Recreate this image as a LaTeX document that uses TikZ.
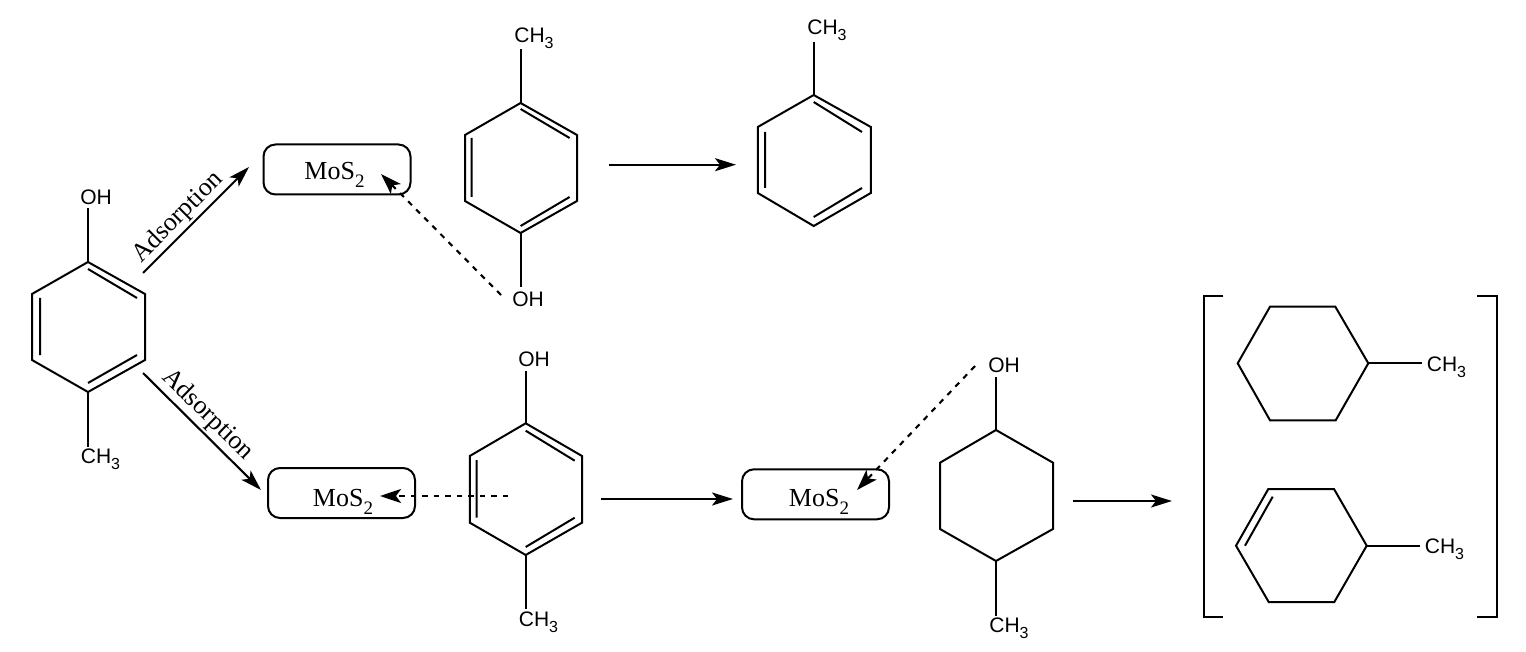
\documentclass[tikz,border=0pt]{standalone}
\usepackage{fontspec}
\setmainfont{Liberation Serif}
\newfontfamily\arialf{Liberation Sans}
\usetikzlibrary{arrows.meta}
\newcommand\subsc[1]{\raisebox{-0.3em}{\fontsize{16}{16}\selectfont #1}}
\newcommand\subsm[1]{\raisebox{-0.3em}{\fontsize{19}{19}\selectfont #1}}
\tikzset{
  bond/.style={line width=2pt,line join=miter,line cap=butt},
  atomlabel/.style={inner sep=0pt,font=\arialf\fontsize{21}{23}\selectfont},
  mosbox/.style={draw,line width=2pt,rounded corners=12pt,inner sep=0pt,minimum height=50pt},
  moslabel/.style={inner sep=0pt,font=\fontsize{26}{28}\selectfont},
  adslabel/.style={inner sep=0pt,font=\fontsize{26}{28}\selectfont},
  solidarrow/.style={line width=2.1pt,-{Stealth[length=21pt,width=13pt,inset=5pt]}},
  dasharrow/.style={line width=2.1pt,dash pattern=on 5.5pt off 6pt,-{Stealth[length=21pt,width=14pt,inset=5pt]}},
}
\begin{document}
\begin{tikzpicture}[x=1pt,y=-1pt]
\useasboundingbox[fill=white] (0,0) rectangle (1526,652);

% ring A
\coordinate (aT) at (88,262); \coordinate (aB) at (88,392);
\draw[bond] (aT) -- (145,294) -- (145,360) -- (aB) -- (32,360) -- (32,294) -- cycle;
\draw[bond] (88,269) -- (137,298) (40,298) -- (40,355) (137,355) -- (88,383);
\node[atomlabel] (aOH) at (96,197) {OH};
\node[atomlabel] (aCH) at (100.5,459.5) {CH\subsc{3}};
\coordinate (aOHe) at (88,208); \coordinate (aCHe) at (88,447);
\draw[bond] (aT) -- (aOHe); \draw[bond] (aB) -- (aCHe);

% ring B
\coordinate (bT) at (520.6,103); \coordinate (bB) at (520.6,233);
\draw[bond] (bT) -- (577,135) -- (577,201) -- (bB) -- (465,201) -- (465,135) -- cycle;
\draw[bond] (520.6,109) -- (569.6,138) (471.6,138) -- (471.6,197) (569.6,197) -- (520.6,226);
\node[atomlabel] (bCH) at (534,38.5) {CH\subsc{3}};
\node[atomlabel] (bOH) at (528,299) {OH};
\coordinate (bCHe) at (520.6,49); \coordinate (bOHe) at (520.6,287);
\draw[bond] (bT) -- (bCHe); \draw[bond] (bB) -- (bOHe);

% ring C
\coordinate (cT) at (813.7,95);
\draw[bond] (cT) -- (870.8,127) -- (870.8,193) -- (813.7,226) -- (757.8,193) -- (757.8,127) -- cycle;
\draw[bond] (813.7,102) -- (862,132) (765,132) -- (765,188) (862,188) -- (813.7,217);
\node[atomlabel] (cCH) at (827,30.5) {CH\subsc{3}};
\coordinate (cCHe) at (813.7,42);
\draw[bond] (cT) -- (cCHe);

% ring D
\coordinate (dT) at (525.7,423.3); \coordinate (dB) at (525.7,555);
\draw[bond] (dT) -- (582,456) -- (582,522.7) -- (dB) -- (469.8,522.7) -- (469.8,456) -- cycle;
\draw[bond] (525.7,430.7) -- (574.7,460.7) (476.7,460) -- (476.7,517.7) (574.7,517.7) -- (525.7,547);
\node[atomlabel] (dOH) at (534,359) {OH};
\node[atomlabel] (dCH) at (538.5,622.5) {CH\subsc{3}};
\coordinate (dOHe) at (525.7,370.7); \coordinate (dCHe) at (525.7,609);
\draw[bond] (dT) -- (dOHe); \draw[bond] (dB) -- (dCHe);

% ring E
\coordinate (eT) at (996,430); \coordinate (eB) at (996,561);
\draw[bond] (eT) -- (1053,462.7) -- (1053,529) -- (eB) -- (940,529) -- (940,462.7) -- cycle;
\node[atomlabel] (eOH) at (1004,365) {OH};
\node[atomlabel] (eCH) at (1009,628.5) {CH\subsc{3}};
\coordinate (eOHe) at (996,376.7); \coordinate (eCHe) at (996,616);
\draw[bond] (eT) -- (eOHe); \draw[bond] (eB) -- (eCHe);

% ring F, G and brackets
\coordinate (fR) at (1368.3,363.3); \coordinate (gR) at (1366.7,545.7);
\draw[bond] (1270,306.7) -- (1335.3,306.7) -- (fR) -- (1335.7,420.3) -- (1270,420.3) -- (1237.7,363.3) -- cycle;
\draw[bond] (1268.3,489) -- (1334,489) -- (gR) -- (1334.3,602) -- (1268.7,602) -- (1236,545.7) -- cycle;
\draw[bond] (1272.7,496.7) -- (1245,545.7);
\node[atomlabel] (fCH) at (1446.5,367) {CH\subsc{3}};
\node[atomlabel] (gCH) at (1444.5,549.5) {CH\subsc{3}};
\coordinate (fCHe) at (1421.7,363.3); \coordinate (gCHe) at (1420,545.7);
\draw[bond] (fR) -- (fCHe); \draw[bond] (gR) -- (gCHe);
\draw[bond] (1223.3,295.7) -- (1204,295.7) -- (1204,616.7) -- (1223.3,616.7);
\draw[bond] (1477.3,295.7) -- (1497,295.7) -- (1497,616.7) -- (1477.3,616.7);

% boxes
\node[mosbox,minimum width=147pt] (box1) at (337,169.5) {};
\node[moslabel] (mos1) at (334.5,175) {MoS\subsm{2}};
\node[mosbox,minimum width=147pt] (box2) at (341.5,493) {};
\node[moslabel] (mos2) at (343,502) {MoS\subsm{2}};
\node[mosbox,minimum width=147pt] (box3) at (815.5,494.3) {};
\node[moslabel] (mos3) at (819,502) {MoS\subsm{2}};

% arrows
\coordinate (u1) at (143,273); \coordinate (u2) at (249,167);
\coordinate (l1) at (143,373); \coordinate (l2) at (261,490);
\coordinate (t1) at (609,164.7); \coordinate (t2) at (736,164.7);
\coordinate (m1) at (601,499); \coordinate (m2) at (733,499);
\coordinate (r1) at (1073,501); \coordinate (r2) at (1172,501);
\draw[solidarrow] (u1) -- (u2);
\draw[solidarrow] (l1) -- (l2);
\draw[solidarrow] (t1) -- (t2);
\draw[solidarrow] (m1) -- (m2);
\draw[solidarrow] (r1) -- (r2);
\node[adslabel,rotate=45] (ads1) at (178,217.5) {Adsorption};
\node[adslabel,rotate=-44] (ads2) at (207.5,415) {Adsorption};

% dashed
\coordinate (d1s) at (501,295); \coordinate (d1e) at (381,174);
\coordinate (d2s) at (508,496); \coordinate (d2e) at (380,496);
\coordinate (d3s) at (975,366); \coordinate (d3e) at (857,490);
\draw[dasharrow] (d1s) -- (d1e);
\draw[dasharrow] (d2s) -- (d2e);
\draw[dasharrow] (d3s) -- (d3e);
\end{tikzpicture}
\end{document}
